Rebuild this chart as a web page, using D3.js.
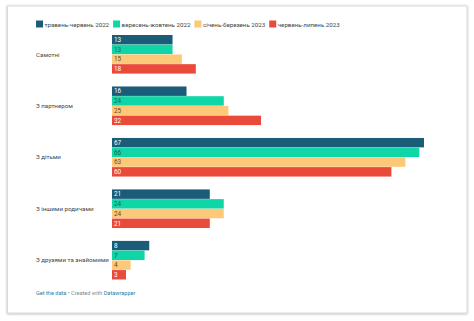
<!DOCTYPE html>
<html><head><meta charset="utf-8">
<script src="https://cdn.jsdelivr.net/npm/d3@7"></script>
<style>
html,body{margin:0;padding:0;background:#fff;}
svg{display:block;font-family:Roboto,"Noto Sans",sans-serif;}
</style></head>
<body>
<svg id="chart" width="474" height="321"></svg>
<script>
const categories = ["Самотні", "З партнером", "З дітьми", "З іншими родичами", "З друзями та знайомими"];
const seriesNames = ["травень-червень 2022", "вересень-жовтень 2022", "січень-березень 2023", "червень-липень 2023"];
const may2022 = [13, 16, 67, 21, 8];
const sep2022 = [13, 24, 66, 24, 7];
const jan2023 = [15, 25, 63, 24, 4];
const jun2023 = [18, 32, 60, 21, 3];
const seriesValues = [may2022, sep2022, jan2023, jun2023];
const colors = ["#1b5c78", "#0ed6a6", "#fdc979", "#ea4a3a"];
const labelColors = ["#ffffff", "#1f5c4c", "#5a4a2a", "#ffffff"];

const svg = d3.select("#chart");

// card
const defs = svg.append("defs");
const f = defs.append("filter").attr("id","sh").attr("x","-5%").attr("y","-5%").attr("width","110%").attr("height","110%");
f.append("feDropShadow").attr("dx",0).attr("dy",0.5).attr("stdDeviation",1.2).attr("flood-color","#000").attr("flood-opacity",0.35);
svg.append("rect").attr("x",7.5).attr("y",6).attr("width",459.5).attr("height",307)
  .attr("fill","#fff").attr("stroke","#d4d4d4").attr("stroke-width",0.8).attr("filter","url(#sh)");

const x = d3.scaleLinear().domain([0, 67]).range([112, 424]);
const y = d3.scaleBand().domain(categories).range([35, 279.5]).paddingInner(0.25);
const ys = d3.scaleBand().domain(d3.range(seriesNames.length)).range([0, y.bandwidth()]).paddingInner(0.03);

// legend
const legend = svg.append("g");
let lx = 36;
seriesNames.forEach((name, i) => {
  const g = legend.append("g").attr("transform", `translate(${lx},20.5)`);
  g.append("rect").attr("width",7).attr("height",7).attr("fill",colors[i]);
  const t = g.append("text").attr("x",8.5).attr("y",6).attr("font-size",6.2).attr("fill","#444").text(name);
  lx += 8.5 + t.node().getComputedTextLength() + 4;
});

// category labels
svg.append("g").selectAll("text").data(categories).join("text")
  .attr("x",36).attr("y",d => y(d) + y.bandwidth()/2 + 2.2)
  .attr("font-size",6.2).attr("fill","#444").text(d => d);

// bars
const rows = [];
categories.forEach((c, ci) => seriesValues.forEach((arr, si) => rows.push({c, si, v: arr[ci]})));
const bars = svg.append("g");
bars.selectAll("rect").data(rows).join("rect")
  .attr("x", x(0)).attr("y", d => y(d.c) + ys(d.si))
  .attr("width", d => x(d.v) - x(0)).attr("height", ys.bandwidth())
  .attr("fill", d => colors[d.si]);
bars.selectAll("text").data(rows).join("text")
  .attr("x", x(0) + 2).attr("y", d => y(d.c) + ys(d.si) + ys.bandwidth()/2 + 2.3)
  .attr("font-size",6.4).attr("fill", d => labelColors[d.si]).text(d => d.v);

// footer
const ft = svg.append("text").attr("x",36).attr("y",295).attr("font-size",5.6);
ft.append("tspan").attr("fill","#1d81a2").text("Get the data");
ft.append("tspan").attr("fill","#888").text(" • Created with ");
ft.append("tspan").attr("fill","#1d81a2").text("Datawrapper");
</script>
</body></html>
